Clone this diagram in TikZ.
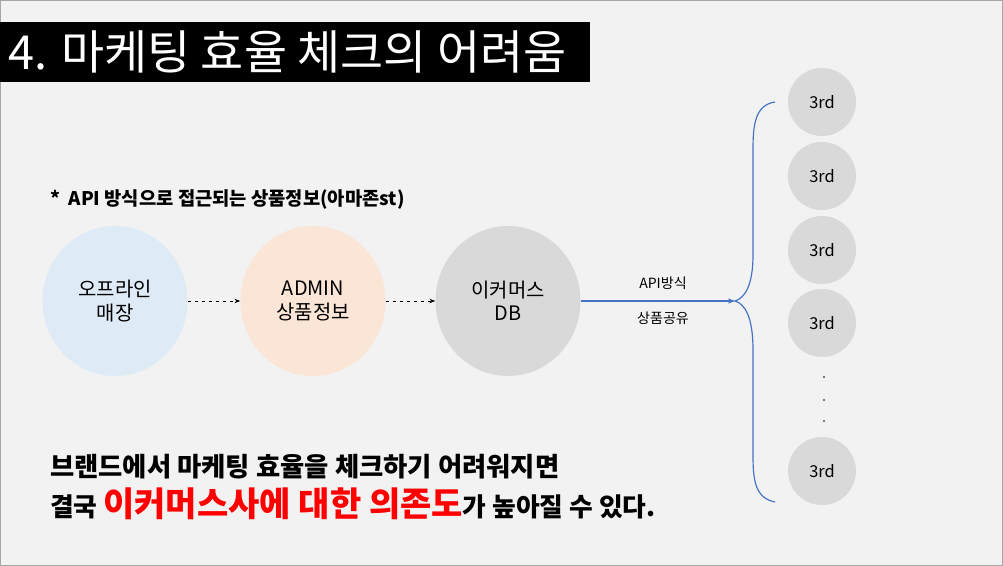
\documentclass[tikz,border=0pt]{standalone}
\usepackage{fontspec}
\setmainfont{Noto Sans CJK KR}
\usetikzlibrary{arrows.meta, positioning, shapes.geometric}
\definecolor{PaleBlue}{HTML}{DEEBF7}
\definecolor{PalePeach}{HTML}{FBE5D6}
\definecolor{MidGray}{HTML}{D9D9D9}
\definecolor{LinkBlue}{HTML}{4472C4}
\definecolor{AlertRed}{HTML}{FF0000}
\tikzset{
  bubble/.style={ellipse, minimum width=4.35cm, minimum height=4.5cm, inner sep=0pt,
                 align=center, font=\fontsize{17}{20}\selectfont},
  party/.style={circle, fill=MidGray, minimum width=1.86cm, minimum height=2.04cm,
                inner sep=0pt, font=\fontsize{14}{16}\selectfont},
  flow/.style={dashed, thick, -{Stealth[length=5pt]}}
}
\begin{document}
\begin{tikzpicture}[x=0.03cm, y=-0.03cm]
    % Canvas
    \fill[gray!10] (0,0) rectangle (1003,566);
    \draw[gray!70] (0.5,0.5) rectangle (1002.5,565.5);
    \useasboundingbox (0,0) rectangle (1003,566);

    % Title
    \fill[black] (0,22) rectangle (590,82);
    \node[anchor=west, text=white, font=\fontsize{40}{46}\selectfont] (title) at (4,52) {4. 마케팅 효율 체크의 어려움};

    % Note
    \node[anchor=west, font=\bfseries\fontsize{16}{19}\selectfont] (note) at (46,200) {*\ \ API 방식으로 접근되는 상품정보(아마존st)};

    % Chain of holders
    \node[bubble, fill=PaleBlue] (store) at (115,301) {오프라인\\매장};
    \node[bubble, fill=PalePeach] (admin) at (313,301) {ADMIN\\상품정보};
    \node[bubble, fill=MidGray] (db) at (508,301) {이커머스\\DB};
    \draw[flow] (store) -- (admin);
    \draw[flow] (admin) -- (db);

    % Sharing link
    \coordinate (fork) at (735,301);
    \draw[LinkBlue, line width=1.2pt, -{Stealth[length=6pt]}] (db) -- (fork);
    \node[font=\fontsize{12}{14}\selectfont] (api) at (663,283) {API방식};
    \node[font=\fontsize{12}{14}\selectfont] (share) at (663,318) {상품공유};
    \draw[LinkBlue, line width=1pt] (775,102) .. controls (755,105) and (753,125) .. (753,150)
        -- (753,255) .. controls (753,285) and (745,298) .. (fork)
        .. controls (745,304) and (753,317) .. (753,350)
        -- (753,455) .. controls (753,480) and (755,498) .. (775,502);

    % Third parties
    \foreach \y/\name in {102/p1, 176/p2, 250/p3, 323/p4, 471/p5}
        \node[party] (\name) at (822,\y) {3rd};
    \foreach \y in {377, 400, 421}
        \fill (824,\y) circle (0.9);

    % Conclusion
    \node[anchor=west, font=\bfseries\fontsize{22.5}{26}\selectfont] (line1) at (46,467) {브랜드에서 마케팅 효율을 체크하기 어려워지면};
    \node[anchor=base west, font=\bfseries\fontsize{22}{26}\selectfont] (line2) at (46,516)
        {결국 {\color{AlertRed}\fontsize{29}{34}\selectfont 이커머스사에 대한 의존도}가 높아질 수 있다.};
\end{tikzpicture}
\end{document}
